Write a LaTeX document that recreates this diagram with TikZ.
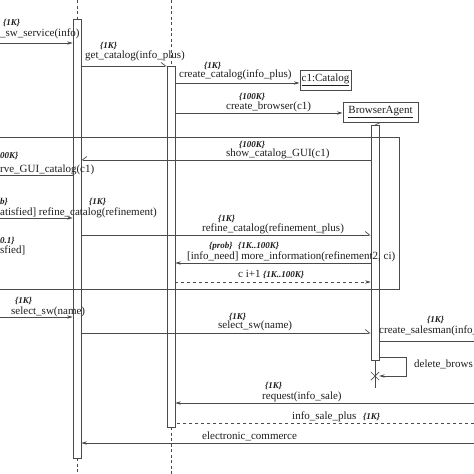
\documentclass[tikz,border=0pt]{standalone}
\usepackage{fontspec}
\setmainfont{Liberation Serif}
\usetikzlibrary{arrows.meta}
\definecolor{lc}{HTML}{4A4A4A}
\definecolor{tc}{HTML}{1E1E1E}
\begin{document}
\begin{tikzpicture}[x=1pt,y=-1pt,
  ln/.style={draw=lc, line width=0.7pt},
  msg/.style={ln},
  txt/.style={anchor=base west, inner sep=0pt, font=\fontsize{11}{13}\selectfont, text=tc},
  tag/.style={anchor=base west, inner sep=0pt, yshift=1.5pt, font=\fontsize{9}{11}\selectfont\bfseries\itshape, text=tc},
  fa/.style={-{Stealth[length=5.5pt,width=3.4pt]}},
  ha/.style={-{Straight Barb[harpoon,length=4.5pt,width=7pt]}},
  has/.style={-{Straight Barb[harpoon,swap,length=4.5pt,width=7pt]}},
  life/.style={draw=lc, line width=0.7pt, dash pattern=on 3pt off 2.5pt},
  act/.style={draw=lc, fill=white, line width=0.7pt, minimum width=8pt, inner sep=0pt},
  obj/.style={draw=lc, line width=1pt, inner sep=0pt, minimum height=20pt, font=\fontsize{11}{13}\selectfont, text=tc}
]
\fill[white] (0,0) rectangle (474,474);
\useasboundingbox (0,0) rectangle (474,474);

% lifelines
\draw[life] (77,0) -- (77,19);
\draw[life] (77,458) -- (77,474);
\draw[life] (171,0) -- (171,66);
\draw[life] (171,427) -- (171,474);

% objects
\node[obj, minimum width=51pt] (cat) at (325.5,80) {\underline{c1:Catalog}};
\node[obj, minimum width=75pt] (ba) at (380.5,112) {\underline{BrowserAgent}};

% activations
\node[act, minimum height=439pt] (a1) at (77,238.5) {};
\node[act, minimum height=361pt] (a2) at (171,246.5) {};
\draw[ln] (ba.south) -- (375,125);
\node[act, minimum height=235pt] (a3) at (375,242.5) {};
\node[minimum size=8pt, inner sep=0pt] (x) at (375,376) {};
\draw[ln] (a3.south) -- (375,388);
\draw[ln] (x.north west) -- (x.south east) (x.south west) -- (x.north east);

% loop frame
\draw[ln] (0,137) -- (399,137) -- (399,289) -- (0,289);

% free ends
\coordinate (m1s) at (0,43);
\coordinate (m6s) at (0,175);
\coordinate (m7s) at (0,218);
\coordinate (m12s) at (0,317);
\coordinate (m14e) at (474,341);
\coordinate (m16s) at (474,403);
\coordinate (m17s) at (474,423);
\coordinate (m18s) at (474,443);

% messages
\draw[msg,fa] (m1s) -- (a1.west |- m1s);
\draw[msg,ha] (a1.east |- 0,66) -- (a2.west |- 0,66);
\draw[msg,fa] (a2.east |- 0,83) -- (cat.west |- 0,83);
\draw[msg,fa] (a2.east |- 0,113) -- (ba.west |- 0,113);
\draw[msg,has] (a3.west |- 0,160) -- (a1.east |- 0,160);
\draw[msg] (m6s) -- (a1.west |- m6s);
\draw[msg,fa] (m7s) -- (a1.west |- m7s);
\draw[msg,ha] (a1.east |- 0,235) -- (a3.west |- 0,235);
\draw[msg,fa] (a3.west |- 0,263) -- (a2.east |- 0,263);
\draw[msg,fa,dashed] (a2.east |- 0,282) -- (a3.west |- 0,282);
\draw[msg,fa] (m12s) -- (a1.west |- m12s);
\draw[msg,ha] (a1.east |- 0,333) -- (a3.west |- 0,333);
\draw[msg] (a3.east |- m14e) -- (m14e);
\draw[msg,fa] (a3.east |- 0,357) -- (406,357) -- (406,376) -- (x.east);
\draw[msg,fa] (m16s) -- (a2.east |- m16s);
\draw[msg,dashed] (m17s) -- (a2.east |- m17s);
\draw[msg,fa] (m18s) -- (a1.east |- m18s);

% texts
\node[txt] (t1) at (0,36) {\_sw\_service(info)};
\node[tag] (g1) at (3,27) {\{1K\}};
\node[txt] (t2) at (85,58) {get\_catalog(info\_plus)};
\node[tag] (g2) at (100,50) {\{1K\}};
\node[txt] (t3) at (179,77) {create\_catalog(info\_plus)};
\node[tag] (g3) at (204,70) {\{1K\}};
\node[txt] (t4) at (226,109) {create\_browser(c1)};
\node[tag] (g4) at (239,101) {\{100K\}};
\node[txt] (t5) at (226,156) {show\_catalog\_GUI(c1)};
\node[tag] (g5) at (239,149) {\{100K\}};
\node[txt] (t6) at (0,172) {rve\_GUI\_catalog(c1)};
\node[tag] (g6) at (0,160) {00K\}};
\node[txt] (t7) at (0,215) {atisfied] refine\_catalog(refinement)};
\node[tag] (g7) at (89,206) {\{1K\}};
\node[tag] (g7b) at (0,206) {b\}};
\node[txt] (t8) at (0,253) {sfied]};
\node[tag] (g8) at (0,245) {0.1\}};
\node[txt] (t9) at (202,231) {refine\_catalog(refinement\_plus)};
\node[tag] (g9) at (218,223) {\{1K\}};
\node[txt] (t10) at (187,259) {[info\_need] more\_information(refinement2, ci)};
\node[tag] (g10a) at (209,250) {\{prob\}};
\node[tag] (g10b) at (238,250) {\{1K..100K\}};
\node[txt] (t11) at (238,277) {c i+1};
\node[tag] (g11) at (263,278.5) {\{1K..100K\}};
\node[txt] (t12) at (11,314) {select\_sw(name)};
\node[tag] (g12) at (15,305) {\{1K\}};
\node[txt] (t13) at (218,328) {select\_sw(name)};
\node[tag] (g13) at (229,321) {\{1K\}};
\node[txt] (t14) at (379,333) {create\_salesman(info\_};
\node[tag] (g14) at (427,324) {\{1K\}};
\node[txt] (t15) at (414,367) {delete\_brows};
\node[txt] (t16) at (262,399) {request(info\_sale)};
\node[tag] (g16) at (265,390) {\{1K\}};
\node[txt] (t17) at (292,419) {info\_sale\_plus};
\node[tag] (g17) at (363,420.5) {\{1K\}};
\node[txt] (t18) at (202,439) {electronic\_commerce};
\end{tikzpicture}
\end{document}
